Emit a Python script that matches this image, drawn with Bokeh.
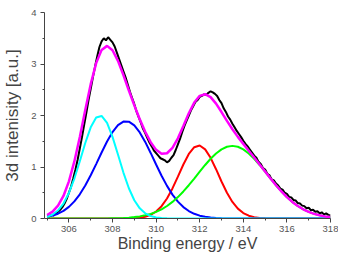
import numpy as np
from bokeh.plotting import figure
from bokeh.models import FixedTicker, Range1d
from bokeh.embed import file_html
from bokeh.resources import INLINE

# ---- data ----
x_major_ticks = [306, 308, 310, 312, 314, 316, 318]
x_minor_ticks = [305, 307, 309, 311, 313, 315, 317]
y_major_ticks = [0, 1, 2, 3, 4]
y_minor_ticks = [0.5, 1.5, 2.5, 3.5]

# measured spectrum (black), 305.0 ... 318.0 eV in 0.1 eV steps
measured = [
    0.05, 0.04, 0.07, 0.06, 0.10, 0.13, 0.17, 0.22, 0.29, 0.38,
    0.50, 0.62, 0.78, 0.95, 1.14, 1.36, 1.58, 1.82, 2.05, 2.30,
    2.52, 2.74, 2.95, 3.15, 3.33, 3.44, 3.50, 3.46, 3.52, 3.47,
    3.42, 3.34, 3.22, 3.10, 2.98, 2.86, 2.74, 2.60, 2.46, 2.34,
    2.22, 2.08, 1.97, 1.86, 1.74, 1.66, 1.56, 1.47, 1.40, 1.32,
    1.27, 1.22, 1.17, 1.15, 1.13, 1.09, 1.12, 1.18, 1.23, 1.33,
    1.44, 1.55, 1.68, 1.80, 1.90, 2.00, 2.10, 2.18, 2.26, 2.30,
    2.36, 2.38, 2.41, 2.40, 2.44, 2.47, 2.45, 2.42, 2.38, 2.30,
    2.24, 2.14, 2.07, 1.98, 1.92, 1.84, 1.77, 1.70, 1.64, 1.58,
    1.51, 1.45, 1.40, 1.34, 1.28, 1.22, 1.18, 1.10, 1.06, 0.98,
    0.95, 0.87, 0.84, 0.76, 0.74, 0.68, 0.64, 0.58, 0.56, 0.50,
    0.48, 0.42, 0.41, 0.36, 0.35, 0.30, 0.29, 0.25, 0.24, 0.20,
    0.21, 0.16, 0.17, 0.13, 0.14, 0.10, 0.12, 0.08, 0.10, 0.07,
    0.06,
]

# fit components, 305.0 ... 318.0 eV in 0.25 eV steps
peak_cyan = [
    0.035, 0.077, 0.156, 0.290, 0.496, 0.776, 1.113, 1.466, 1.770, 1.960,
    1.991, 1.855, 1.585, 1.242, 0.892, 0.588, 0.355, 0.197, 0.100, 0.047,
    0.020, 0.008, 0.003, 0.001,
    0, 0, 0, 0, 0, 0, 0, 0, 0, 0, 0, 0, 0, 0, 0, 0, 0, 0, 0, 0,
    0, 0, 0, 0, 0, 0, 0, 0, 0,
]
peak_blue = [
    0.033, 0.056, 0.093, 0.148, 0.226, 0.332, 0.470, 0.640, 0.839, 1.057,
    1.282, 1.495, 1.678, 1.812, 1.882, 1.880, 1.807, 1.672, 1.487, 1.273,
    1.048, 0.830, 0.633, 0.464, 0.327, 0.222, 0.145, 0.091, 0.055, 0.032,
    0.018, 0.010, 0.005, 0.002, 0.001,
    0, 0, 0, 0, 0, 0, 0, 0, 0, 0, 0, 0, 0, 0, 0, 0, 0, 0,
]
peak_red = [
    0, 0, 0, 0, 0, 0, 0, 0, 0, 0, 0, 0, 0, 0, 0, 0,
    0.007, 0.016, 0.035, 0.072, 0.136, 0.239, 0.388, 0.584, 0.813, 1.049,
    1.253, 1.385, 1.418, 1.343, 1.178, 0.957, 0.719, 0.500, 0.322, 0.192,
    0.106, 0.054, 0.026, 0.011, 0.005, 0.002,
    0, 0, 0, 0, 0, 0, 0, 0, 0, 0, 0,
]
peak_green = [
    0, 0, 0, 0, 0, 0, 0, 0, 0, 0,
    0.001, 0.002, 0.004, 0.006, 0.011, 0.017, 0.027, 0.041, 0.062, 0.090,
    0.129, 0.179, 0.243, 0.322, 0.416, 0.525, 0.646, 0.775, 0.909, 1.039,
    1.160, 1.263, 1.343, 1.393, 1.410, 1.393, 1.343, 1.263, 1.160, 1.039,
    0.909, 0.775, 0.646, 0.525, 0.416, 0.322, 0.243, 0.179, 0.129, 0.090,
    0.062, 0.041, 0.027,
]
envelope = [
    0.068, 0.133, 0.249, 0.438, 0.722, 1.108, 1.583, 2.106, 2.609, 3.017,
    3.274, 3.352, 3.267, 3.060, 2.785, 2.485, 2.196, 1.926, 1.684, 1.482,
    1.333, 1.256, 1.267, 1.371, 1.556, 1.796, 2.044, 2.251, 2.382, 2.414,
    2.356, 2.230, 2.067, 1.895, 1.733, 1.585, 1.449, 1.317, 1.186, 1.050,
    0.914, 0.777, 0.646, 0.525, 0.416, 0.322, 0.243, 0.179, 0.129, 0.090,
    0.062, 0.041, 0.027,
]

energy_meas = np.linspace(305.0, 318.0, len(measured))
energy_fit = np.linspace(305.0, 318.0, len(envelope))

FONT = "Liberation Sans"

p = figure(width=338, height=254,
           x_range=Range1d(304.88, 318.0), y_range=Range1d(0, 4),
           output_backend="svg", toolbar_location=None,
           min_border_left=43, min_border_right=8,
           min_border_top=12, min_border_bottom=34)
p.outline_line_color = None
p.grid.visible = False
p.background_fill_color = "white"
p.border_fill_color = "white"

p.line(energy_meas, measured, line_color="black", line_width=2)
p.line(energy_fit, peak_red, line_color="#ff0000", line_width=2)
p.line(energy_fit, peak_blue, line_color="#0000ff", line_width=2)
p.line(energy_fit, peak_green, line_color="#00ff00", line_width=2)
p.line(energy_fit, peak_cyan, line_color="#00ffff", line_width=2)
p.line(energy_fit, envelope, line_color="#ff00ff", line_width=2.5)

for ax in (p.xaxis[0], p.yaxis[0]):
    ax.axis_line_color = "#444444"
    ax.major_tick_line_color = "#444444"
    ax.minor_tick_line_color = "#444444"
    ax.major_tick_in = 0
    ax.major_tick_out = 4
    ax.minor_tick_in = 0
    ax.minor_tick_out = 2
    ax.major_label_text_font = FONT
    ax.major_label_text_font_size = "9.5px"
    ax.major_label_text_color = "#555555"
    ax.axis_label_text_font = FONT
    ax.axis_label_text_font_style = "normal"
    ax.axis_label_text_color = "#444444"

p.xaxis.ticker = FixedTicker(ticks=x_major_ticks, minor_ticks=x_minor_ticks)
p.yaxis.ticker = FixedTicker(ticks=y_major_ticks, minor_ticks=y_minor_ticks)
p.xaxis.axis_label = "Binding energy / eV"
p.yaxis.axis_label = "3d intenisity [a.u.]"
p.xaxis.axis_label_text_font_size = "16px"
p.yaxis.axis_label_text_font_size = "17px"
p.xaxis.axis_label_standoff = 0
p.yaxis.axis_label_standoff = 6
p.xaxis.major_label_standoff = 3
p.yaxis.major_label_standoff = 4

open("out.html", "w").write(file_html(p, INLINE))
